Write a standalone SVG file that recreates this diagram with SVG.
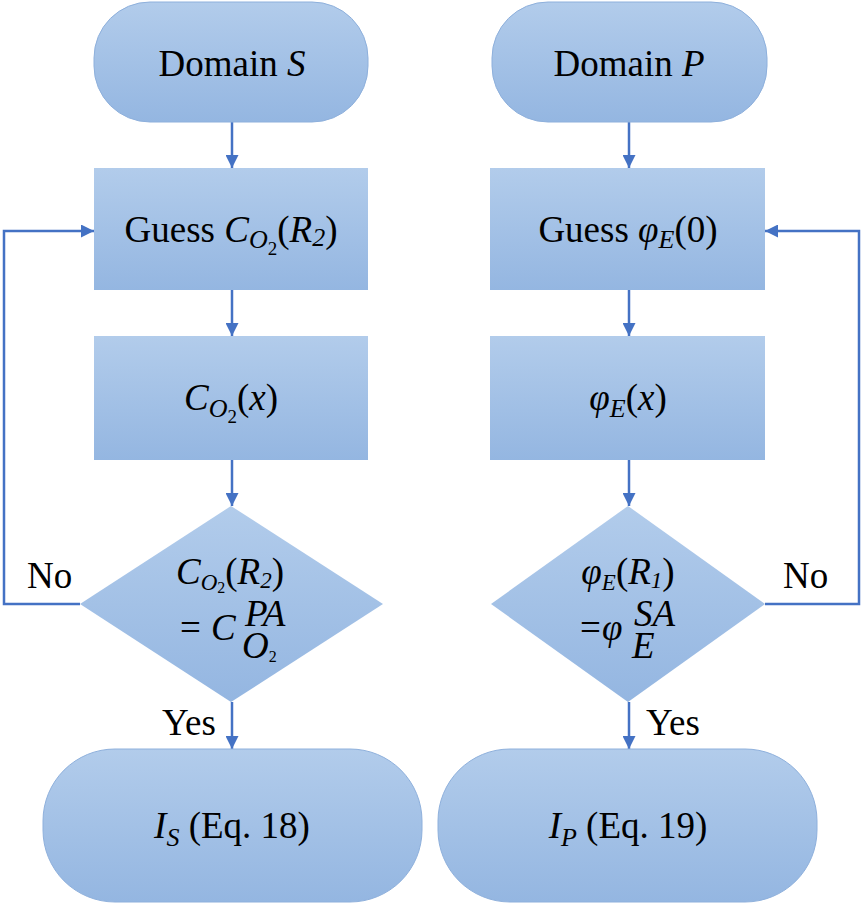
<svg xmlns="http://www.w3.org/2000/svg" width="863" height="904" viewBox="0 0 863 904">
<defs>
<linearGradient id="g" x1="0" y1="0" x2="0" y2="1">
<stop offset="0" stop-color="#b2cceb"/>
<stop offset="1" stop-color="#94b6e1"/>
</linearGradient>
<marker id="ah" viewBox="0 0 10 10" refX="10" refY="5" markerWidth="13" markerHeight="13" markerUnits="userSpaceOnUse" orient="auto">
<path d="M0,0 L10,5 L0,10 z" fill="#4472c4"/>
</marker>
</defs>
<style>
.sh{fill:url(#g)}
.rd{fill:url(#g);stroke:#8eb0dc;stroke-width:1}
.t{font-family:"Liberation Serif","Times New Roman",serif;font-size:37px;fill:#000}
.m{font-family:"Liberation Serif","Times New Roman",serif;font-style:italic;font-size:37px;fill:#000}
.c{stroke:#4472c4;stroke-width:2.5;fill:none}
</style>
<rect width="863" height="904" fill="#fff"/>

<g id="connectors">
<line class="c" x1="232" y1="122" x2="232" y2="168" marker-end="url(#ah)"/>
<line class="c" x1="232" y1="290" x2="232" y2="336" marker-end="url(#ah)"/>
<line class="c" x1="232" y1="460" x2="232" y2="506" marker-end="url(#ah)"/>
<line class="c" x1="232" y1="702" x2="232" y2="749" marker-end="url(#ah)"/>
<path class="c" d="M80,604 H4 V231 H94" marker-end="url(#ah)"/>
<line class="c" x1="629" y1="122" x2="629" y2="168" marker-end="url(#ah)"/>
<line class="c" x1="629" y1="290" x2="629" y2="336" marker-end="url(#ah)"/>
<line class="c" x1="629" y1="460" x2="629" y2="506" marker-end="url(#ah)"/>
<line class="c" x1="629" y1="702" x2="629" y2="749" marker-end="url(#ah)"/>
<path class="c" d="M765,604 H859 V231 H765" marker-end="url(#ah)"/>
<text class="t" x="27" y="588">No</text>
<text class="t" x="783" y="588">No</text>
<text class="t" x="162" y="735">Yes</text>
<text class="t" x="646" y="735">Yes</text>
</g>

<g id="domainS">
<rect class="rd" x="94" y="2" width="274" height="120" rx="56"/>
<text class="t" x="232" y="76" text-anchor="middle">Domain <tspan font-style="italic">S</tspan></text>
</g>

<g id="domainP">
<rect class="rd" x="492" y="2" width="275" height="120" rx="56"/>
<text class="t" x="629" y="76" text-anchor="middle">Domain <tspan font-style="italic">P</tspan></text>
</g>

<g id="guessC">
<rect class="sh" x="94" y="168" width="274" height="122"/>
<text class="t" x="231" y="242" text-anchor="middle">Guess <tspan font-style="italic">C</tspan><tspan font-style="italic" font-size="26" dy="6">O</tspan><tspan font-size="19" dy="7">2</tspan><tspan dy="-13">(</tspan><tspan font-style="italic">R</tspan><tspan font-style="italic" font-size="26" dy="4">2</tspan><tspan dy="-4">)</tspan></text>
</g>

<g id="guessPhi">
<rect class="sh" x="490" y="168" width="275" height="122"/>
<text class="t" x="628" y="242" text-anchor="middle">Guess <tspan font-style="italic">φ</tspan><tspan font-style="italic" font-size="26" dy="6">E</tspan><tspan dy="-6">(0)</tspan></text>
</g>

<g id="cx">
<rect class="sh" x="94" y="336" width="274" height="124"/>
<text class="m" x="231" y="410" text-anchor="middle">C<tspan font-size="26" dy="7">O</tspan><tspan font-style="normal" font-size="19" dy="6">2</tspan><tspan font-style="normal" dy="-13">(</tspan>x<tspan font-style="normal">)</tspan></text>
</g>

<g id="phix">
<rect class="sh" x="490" y="336" width="275" height="124"/>
<text class="m" x="628" y="410" text-anchor="middle">φ<tspan font-size="26" dy="7">E</tspan><tspan font-style="normal" dy="-7">(</tspan>x<tspan font-style="normal">)</tspan></text>
</g>

<g id="checkC">
<polygon class="sh" points="231,506 383,604 231,702 80,604"/>
<text class="m" x="230" y="584" text-anchor="middle">C<tspan font-size="23" dy="6">O</tspan><tspan font-style="normal" font-size="16" dy="3">2</tspan><tspan font-style="normal" dy="-9">(</tspan>R<tspan font-size="23" dy="4">2</tspan><tspan font-style="normal" dy="-4">)</tspan></text>
<text class="t" x="180" y="640">=</text>
<text class="m" x="211" y="640" font-size="35">C</text>
<text class="m" x="245" y="626" font-size="22">PA</text>
<text class="m" x="242" y="658" font-size="22">O<tspan font-style="normal" font-size="16" dy="4">2</tspan></text>
</g>

<g id="checkPhi">
<polygon class="sh" points="628,506 765,604 628,702 491,604"/>
<text class="m" x="628" y="584" text-anchor="middle">φ<tspan font-size="23" dy="6">E</tspan><tspan font-style="normal" dy="-6">(</tspan>R<tspan font-size="23" dy="4">1</tspan><tspan font-style="normal" dy="-4">)</tspan></text>
<text class="t" x="580" y="640">=</text>
<text class="m" x="602" y="640" font-size="35">φ</text>
<text class="m" x="634" y="626" font-size="22">SA</text>
<text class="m" x="632" y="658" font-size="22">E</text>
</g>

<g id="resultS">
<rect class="rd" x="43" y="749" width="379" height="153" rx="72"/>
<text class="t" x="232" y="838" text-anchor="middle"><tspan font-style="italic">I</tspan><tspan font-style="italic" font-size="26" dy="8">S</tspan><tspan dy="-8"> (Eq. 18)</tspan></text>
</g>

<g id="resultP">
<rect class="rd" x="438" y="749" width="379" height="153" rx="72"/>
<text class="t" x="628" y="838" text-anchor="middle"><tspan font-style="italic">I</tspan><tspan font-style="italic" font-size="26" dy="8">P</tspan><tspan dy="-8"> (Eq. 19)</tspan></text>
</g>
</svg>
